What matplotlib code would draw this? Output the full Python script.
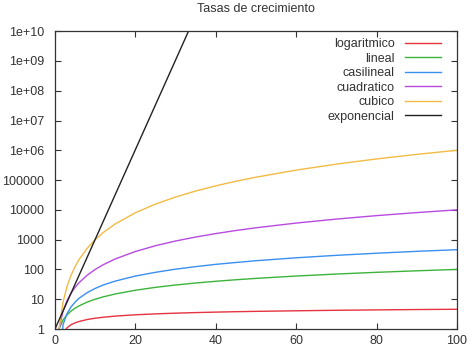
import matplotlib
matplotlib.use("Agg")
import matplotlib.pyplot as plt
from matplotlib.ticker import FixedLocator, FixedFormatter, NullLocator

plt.rcParams["font.family"] = ["Liberation Sans", "DejaVu Sans"]

# valores (aprox.)
x_vals = [1, 2, 3, 4, 5, 6, 8, 10, 12, 15, 20, 25, 30, 35, 40, 45, 50, 60, 70, 80, 90, 100]
logaritmico = [0.0, 0.69, 1.1, 1.39, 1.61, 1.79, 2.08, 2.3, 2.48, 2.71, 3.0, 3.22, 3.4, 3.56,
               3.69, 3.81, 3.91, 4.09, 4.25, 4.38, 4.5, 4.6]
lineal = [1, 2, 3, 4, 5, 6, 8, 10, 12, 15, 20, 25, 30, 35, 40, 45, 50, 60, 70, 80, 90, 100]
casilineal = [0.01, 1.39, 3.3, 5.5, 8.0, 10.8, 16.6, 23, 30, 40.6, 60, 80, 102, 124, 148,
              171, 196, 246, 297, 350, 405, 460]
cuadratico = [1, 4, 9, 16, 25, 36, 64, 100, 144, 225, 400, 625, 900, 1225, 1600, 2025, 2500,
              3600, 4900, 6400, 8100, 10000]
cubico = [1, 8, 27, 64, 125, 216, 512, 1000, 1730, 3380, 8000, 15600, 27000, 42900, 64000,
          91100, 125000, 216000, 343000, 512000, 729000, 1000000]
x_exp = [0, 5, 10, 15, 20, 25, 30, 35]
exponencial = [1, 32, 1020, 32800, 1.05e6, 3.36e7, 1.07e9, 3.44e10]

series = [
    ("logaritmico", x_vals, logaritmico, "#e5333f"),
    ("lineal", x_vals, lineal, "#3cb43c"),
    ("casilineal", x_vals, casilineal, "#3a8ff0"),
    ("cuadratico", x_vals, cuadratico, "#b84ae0"),
    ("cubico", x_vals, cubico, "#f2bb44"),
    ("exponencial", x_exp, exponencial, "#222222"),
]

y_ticks = [1, 10, 100, 1000, 10000, 100000, 1e6, 1e7, 1e8, 1e9, 1e10]
y_labels = ["1", "10", "100", "1000", "10000", "100000", "1e+06", "1e+07", "1e+08",
            "1e+09", "1e+10"]
x_ticks = [0, 20, 40, 60, 80, 100]

fig = plt.figure(figsize=(4.74, 3.58), dpi=100)
ax = fig.add_axes([0.116, 0.081, 0.848, 0.832])

for name, xs, ys, color in series:
    ax.plot(xs, ys, color=color, lw=1.0, label=name)

ax.set_yscale("log")
ax.set_xlim(0, 100)
ax.set_ylim(1, 1e10)
ax.yaxis.set_major_locator(FixedLocator(y_ticks))
ax.yaxis.set_major_formatter(FixedFormatter(y_labels))
ax.yaxis.set_minor_locator(NullLocator())
ax.set_xticks(x_ticks)
ax.tick_params(direction="in", length=4.5, width=0.8, labelsize=9, colors="#333333",
               top=True, right=True)
ax.tick_params(axis="x", pad=4)
ax.tick_params(axis="y", pad=8)
for sp in ax.spines.values():
    sp.set_color("#333333")
    sp.set_linewidth(0.9)

ax.set_title("Tasas de crecimiento", fontsize=9, color="#333333", pad=14)

leg = ax.legend(loc="upper right", bbox_to_anchor=(0.96, 0.976), frameon=False,
                markerfirst=False, fontsize=9, handlelength=2.9, handletextpad=0.8,
                labelspacing=0.2, borderpad=0, borderaxespad=0)
for t in leg.get_texts():
    t.set_color("#333333")

fig.savefig("out.png", dpi=100)
